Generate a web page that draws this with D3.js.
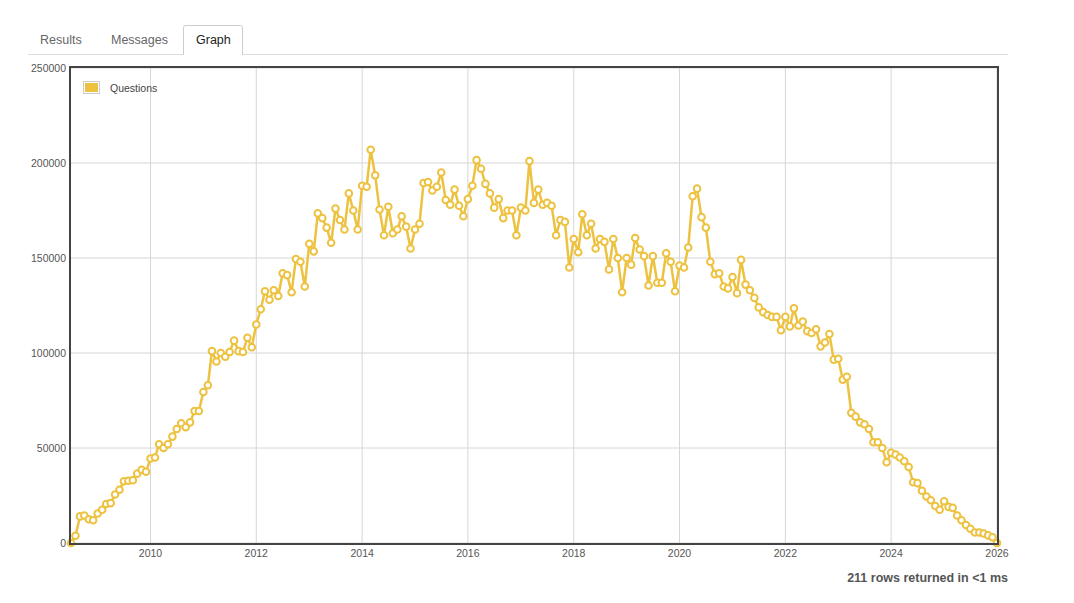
<!DOCTYPE html><html><head><meta charset="utf-8"><script src="https://cdn.jsdelivr.net/npm/d3@7"></script>
<style>body{margin:0;background:#fff;font-family:Arial,"Liberation Sans",sans-serif}</style></head><body><svg id="c" width="1074" height="603"></svg>
<script>
const startYear=2008, startMonth=6; // July 2008 (0-based month)
const questions=[0,3800,14000,14500,12500,12000,
15500,17500,20500,21000,25500,28000,32500,32800,33000,36500,38500,37500,
44500,45000,52000,50000,52000,56000,60000,63000,61000,63500,69500,69500,
79500,83000,101000,95500,100000,98000,100500,106500,101000,100500,108000,103000,
115000,123000,132500,128000,133000,130000,142000,141000,132000,149500,148000,135000,
157500,153500,173500,171000,166000,158000,176000,170000,165000,184000,175000,165000,
188000,187500,207000,193500,175500,162000,177000,163000,165000,172000,166500,155000,
165000,168000,189500,190000,185500,187500,195000,180500,178000,186000,177500,172000,
181000,188000,201500,197000,189000,184000,176500,181000,171000,175000,175000,162000,
176500,175000,201000,179000,186000,178000,179000,177500,162000,170000,169000,145000,
160000,153000,173000,162000,168000,155000,160000,158500,144000,160000,150000,132000,
150000,146500,160500,154500,151000,135500,151000,137000,137000,152500,148000,132500,
146000,145000,155500,182500,186500,171500,166000,148000,141500,142000,135000,134000,
140000,131500,149000,136000,133000,129000,124000,121500,120000,119000,119000,112000,
119000,114000,123500,114500,116500,111500,110500,112500,103500,105500,110000,96500,
97000,86000,87500,68500,66500,63500,62500,60000,53000,53000,50000,42500,
47500,46500,45000,43000,40000,32000,31500,27500,24500,22500,19500,17500,
22000,19000,18500,14500,12000,9500,7500,5500,5500,5000,4000,3000,
0];
const yTicks=[0,50000,100000,150000,200000,250000];
const xTickYears=[2010,2012,2014,2016,2018,2020,2022,2024,2026];
const tabs=["Results","Messages","Graph"];
const seriesName="Questions";
const footer="211 rows returned in <1 ms";

const svg=d3.select("#c");
const color="#edc240";
const L=71,R=997,T=68,B=543;
const dates=questions.map((v,i)=>new Date(startYear,startMonth+i,1));
const x=d3.scaleTime().domain([dates[0],dates[dates.length-1]]).range([L,R]);
const y=d3.scaleLinear().domain([0,250000]).range([B,T]);

svg.append("line").attr("x1",28).attr("x2",1008).attr("y1",54.5).attr("y2",54.5).attr("stroke","#ddd");
const tabX=[40,111,196];
svg.append("path").attr("d","M183.5,55 V27.5 Q183.5,25.5 185.5,25.5 H240.5 Q242.5,25.5 242.5,27.5 V55").attr("fill","#fff").attr("stroke","#ccc");
tabs.forEach((t,i)=>svg.append("text").attr("x",tabX[i]).attr("y",44).attr("font-size",12.5).attr("fill",i==2?"#222":"#666").text(t));

const g=svg.append("g");
yTicks.forEach(v=>g.append("line").attr("x1",L).attr("x2",R).attr("y1",y(v)).attr("y2",y(v)).attr("stroke","#d6d6d6"));
xTickYears.forEach(yr=>{const xx=x(new Date(yr,0,1));g.append("line").attr("x1",xx).attr("x2",xx).attr("y1",T).attr("y2",B).attr("stroke","#d6d6d6");
 svg.append("text").attr("x",xx).attr("y",557).attr("text-anchor","middle").attr("font-size",10.5).attr("fill","#555").text(yr);});
yTicks.forEach(v=>svg.append("text").attr("x",66).attr("y",y(v)+4).attr("text-anchor","end").attr("font-size",10.5).attr("fill","#555").text(v));

const line=d3.line().x((d,i)=>x(dates[i])).y(d=>y(d));
svg.append("path").datum(questions).attr("d",line).attr("fill","none").attr("stroke",color).attr("stroke-width",2.5);
svg.selectAll("circle.p").data(questions).join("circle").attr("cx",(d,i)=>x(dates[i])).attr("cy",d=>y(d)).attr("r",3.3).attr("fill","#fff").attr("stroke",color).attr("stroke-width",2);
svg.append("rect").attr("x",70).attr("y",67).attr("width",928).attr("height",477).attr("fill","none").attr("stroke","#444").attr("stroke-width",2);

svg.append("rect").attr("x",83.5).attr("y",81.5).attr("width",16).attr("height",12).attr("fill","#fff").attr("stroke","#ccc");
svg.append("rect").attr("x",85).attr("y",83).attr("width",13).attr("height",9).attr("fill",color);
svg.append("text").attr("x",110).attr("y",92).attr("font-size",10.5).attr("fill","#444").text(seriesName);

svg.append("text").attr("x",1008).attr("y",582).attr("text-anchor","end").attr("font-size",12.5).attr("font-weight","bold").attr("fill","#555").text(footer);
</script></body></html>
